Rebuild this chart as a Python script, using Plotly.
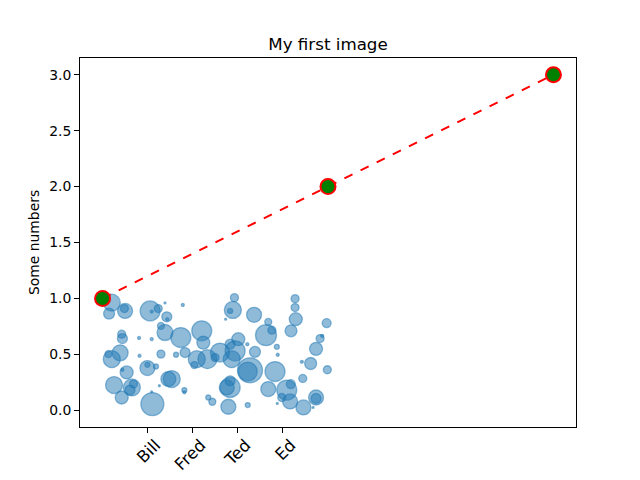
import plotly.graph_objects as go

# Line series
line_x = [0, 1, 2]
line_y = [1, 2, 3]

# Bubble scatter (x, y in data units; size = bubble diameter)
bub_x = [0.041, 0.029, 0.100, 0.097, 0.211, 0.247, 0.218, 0.277, 0.356, 0.285,
         0.287, 0.259, 0.277, 0.347, 0.440, 0.447, 0.085, 0.088, 0.162, 0.218,
         0.078, 0.026, 0.041, 0.164, 0.259, 0.326, 0.366, 0.418, 0.407, 0.465,
         0.107, 0.088, 0.199, 0.199, 0.237, 0.292, 0.307, 0.252, 0.051, 0.130,
         0.137, 0.122, 0.085, 0.218, 0.221, 0.363, 0.469, 0.487, 0.602, 0.566,
         0.588, 0.521, 0.573, 0.642, 0.676, 0.585, 0.578, 0.566, 0.546, 0.672,
         0.735, 0.751, 0.725, 0.773, 0.777, 0.854, 0.854, 0.857, 0.836, 0.994,
         0.965, 0.974, 0.947, 0.499, 0.654, 0.644, 0.765, 0.884, 0.923, 0.997,
         0.888, 0.817, 0.835, 0.735, 0.566, 0.551, 0.795, 0.832, 0.891, 0.947,
         0.947, 0.934, 0.644, 0.558, 0.775, 0.566, 0.363]
bub_y = [0.962, 0.864, 0.888, 0.909, 0.888, 0.909, 0.882, 0.960, 0.942, 0.835,
         0.814, 0.754, 0.695, 0.650, 0.710, 0.605, 0.680, 0.641, 0.647, 0.636,
         0.513, 0.502, 0.457, 0.487, 0.502, 0.496, 0.516, 0.457, 0.404, 0.457,
         0.338, 0.362, 0.377, 0.406, 0.391, 0.279, 0.279, 0.219, 0.225, 0.204,
         0.234, 0.180, 0.114, 0.165, 0.055, 0.180, 0.114, 0.076, 0.635, 0.591,
         0.531, 0.516, 0.457, 0.591, 0.522, 1.007, 0.897, 0.888, 0.814, 0.853,
         0.790, 0.716, 0.671, 0.567, 0.496, 0.998, 0.918, 0.814, 0.710, 0.779,
         0.641, 0.665, 0.549, 0.471, 0.357, 0.346, 0.346, 0.433, 0.418, 0.362,
         0.284, 0.180, 0.234, 0.189, 0.204, 0.204, 0.114, 0.079, 0.025, 0.114,
         0.105, 0.025, 0.046, 0.031, 0.061, 0.263, 0.160]
bub_size = [17, 11, 15, 8, 20, 8, 3, 2, 3, 10,
            3, 7, 16, 20, 20, 13, 8, 10, 3, 3,
            16, 7, 17, 3, 8, 5, 10, 17, 7, 19,
            13, 3, 15, 5, 5, 15, 17, 2, 17, 17,
            8, 10, 13, 2, 23, 5, 5, 7, 13, 10,
            20, 19, 17, 3, 11, 8, 17, 5, 2, 15,
            7, 8, 21, 5, 3, 8, 8, 13, 12, 9,
            8, 3, 13, 8, 25, 19, 20, 3, 12, 8,
            8, 20, 9, 15, 20, 15, 8, 15, 15, 15,
            10, 2, 5, 15, 2, 10, 3]

xtick_vals = [0.2, 0.4, 0.6, 0.8]
xtick_text = ["Bill", "Fred", "Ted", "Ed"]

blue = "rgba(31,119,180,0.5)"

fig = go.Figure()
fig.add_trace(go.Scatter(
    x=bub_x, y=bub_y, mode="markers",
    marker=dict(size=bub_size, color=blue, opacity=1,
                line=dict(color=blue, width=1.3)),
    showlegend=False, hoverinfo="skip"))
fig.add_trace(go.Scatter(
    x=line_x, y=line_y, mode="lines+markers",
    line=dict(color="red", width=2, dash="dash"),
    marker=dict(size=15, color="green", opacity=1, line=dict(color="red", width=2)),
    showlegend=False))

font = "DejaVu Sans"
# page body has an 8px offset; margins compensate so the axes land where the reference has them
fig.update_layout(
    width=640, height=480,
    margin=dict(l=72, r=72, t=49.6, b=60.8, autoexpand=False),
    paper_bgcolor="white", plot_bgcolor="white",
    font=dict(family=font, color="black", size=14),
    title=dict(text="My first image", x=0.5, xref="paper", xanchor="center",
               y=1 - 36 / 480, yref="container", yanchor="middle",
               font=dict(size=16.7, family=font, color="black")),
)
fig.update_xaxes(range=[-0.1, 2.1], tickvals=xtick_vals, ticktext=xtick_text,
                 tickangle=-45, tickfont=dict(size=16.5), ticklabelshift=8,
                 ticklabelstandoff=-4, automargin=False,
                 showgrid=False, zeroline=False, showline=True, linecolor="black",
                 linewidth=1, mirror=True, ticks="outside", ticklen=5, tickwidth=1,
                 tickcolor="black")
fig.update_yaxes(range=[-0.15, 3.15], dtick=0.5, tick0=0, tickformat=".1f",
                 tickfont=dict(size=13.9), automargin=False,
                 title=dict(text="Some numbers", font=dict(size=13.9), standoff=6),
                 showgrid=False, zeroline=False, showline=True, linecolor="black",
                 linewidth=1, mirror=True, ticks="outside", ticklen=5, tickwidth=1,
                 tickcolor="black")

fig.write_html("out.html")
